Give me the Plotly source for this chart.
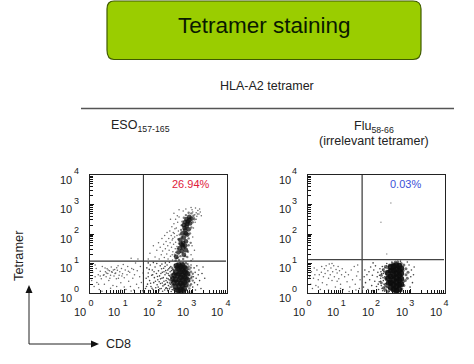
import plotly.graph_objects as go

title_text = "Tetramer staining"
subtitle_text = "HLA-A2 tetramer"
left_percent = "26.94%"
right_percent = "0.03%"
decades = [0, 1, 2, 3, 4]
decade_labels = ["0", "1", "2", "3", "4"]

# Events, as (log10 CD8, log10 tetramer)
left_sparse = [(0.05,0.42),(0.08,0.7),(0.12,0.22),(0.15,0.55),(0.18,0.83),(0.2,0.36),(0.24,0.62),(0.27,0.12),(0.3,0.74),(0.33,0.48),
 (0.36,0.9),(0.39,0.6),(0.42,0.3),(0.45,0.72),(0.47,0.55),(0.5,0.82),(0.52,0.66),(0.55,0.42),(0.57,0.75),(0.6,0.6),
 (0.62,0.88),(0.65,0.7),(0.67,0.25),(0.7,0.58),(0.72,0.8),(0.75,0.68),(0.77,0.48),(0.8,0.77),(0.82,0.92),(0.85,0.6),
 (0.87,0.72),(0.9,0.35),(0.92,0.83),(0.95,0.65),(0.97,0.97),(1.0,0.52),(1.03,0.78),(1.05,0.12),(1.08,0.62),(1.1,0.9),
 (1.13,0.4),(1.16,0.7),(1.18,0.22),(1.22,0.83),(1.25,0.5),(1.28,0.1),(1.3,0.62),(1.33,1.02),(1.36,0.3),(1.38,0.75),
 (1.42,0.18),(1.45,0.55),(1.47,0.9),(1.5,0.36),(1.53,0.08),(1.55,0.68),(0.6,0.16),(0.9,0.1),(1.2,0.07),(0.35,0.06),
 (0.78,0.22),(1.0,0.2),(1.4,1.15),(1.2,1.18),(0.15,0.95),(0.25,0.3),(0.58,0.5),(0.68,0.78),(0.44,0.85),(0.83,0.5),
 (0.48,0.68),(0.53,0.78),(0.63,0.72),(0.73,0.66),(0.41,0.62),(0.78,0.86),(0.93,0.58),(0.3,0.58),(1.12,0.74),(1.27,0.8)]
left_mid = [(1.62,0.15),(1.64,0.5),(1.66,0.85),(1.68,0.3),(1.7,0.68),(1.72,0.08),(1.74,0.42),(1.76,0.95),(1.78,0.22),(1.8,0.6),
 (1.82,0.78),(1.84,0.12),(1.86,0.35),(1.88,0.52),(1.9,0.88),(1.92,0.18),(1.94,0.66),(1.96,0.28),(1.98,0.45),(2.0,0.75),
 (2.01,0.08),(2.03,0.58),(2.05,0.92),(2.06,0.32),(2.08,0.15),(2.1,0.5),(2.11,0.7),(2.13,0.24),(2.15,0.84),(2.16,0.4),
 (2.18,0.1),(2.19,0.62),(2.2,0.3),(2.21,0.76),(2.23,0.18),(2.24,0.5),(2.25,0.95),(2.26,0.36),(2.27,0.08),(2.28,0.66),
 (2.29,0.25),(2.3,0.82),(2.31,0.45),(2.32,0.14),(2.33,0.58),(2.34,0.72),(2.35,0.3),(2.36,0.9),(2.37,0.05),(2.38,0.5),
 (2.39,0.2),(2.4,0.64),(2.41,0.38),(2.42,0.8),(2.43,0.1),(2.44,0.55),(2.45,0.28),(2.46,0.7),(2.47,0.96),(2.48,0.16),
 (3.0,0.2),(3.02,0.55),(3.04,0.85),(3.05,0.35),(3.07,0.7),(3.08,0.1),(3.1,0.5),(3.12,0.92),(3.14,0.28),(3.16,0.62),
 (3.18,0.78),(3.2,0.42),(3.24,0.15),(3.27,0.66),(3.3,0.88),(3.35,0.5),(2.95,0.95),(2.98,0.05),(1.7,1.02),(1.85,1.03),
 (2.2,1.02),(2.32,1.04),(2.1,0.98),(1.95,1.0),
 (1.65,0.22),(1.7,0.55),(1.73,0.8),(1.77,0.33),(1.81,0.16),(1.83,0.62),(1.87,0.72),(1.91,0.4),(1.93,0.06),(1.97,0.56),
 (1.99,0.2),(2.02,0.38),(2.04,0.14),(2.07,0.66),(2.09,0.82),(2.12,0.06),(2.14,0.52),(2.17,0.28),(2.19,0.9),(2.22,0.42),
 (2.23,0.68),(2.26,0.14),(2.28,0.48),(2.3,0.6),(2.32,0.34),(2.34,0.2),(2.36,0.54),(2.38,0.76),(2.4,0.12),(2.42,0.44),
 (2.44,0.3),(2.46,0.62),(2.48,0.4),(2.37,0.36),(2.33,0.86),(2.27,0.78),(2.21,0.16),(2.16,0.72),(2.11,0.34),(2.06,0.48)]
left_arm_scatter = [(1.7,1.15),(1.75,1.35),(1.85,1.6),(1.9,1.22),(1.95,1.45),(2.0,1.7),(2.02,1.15),(2.05,1.55),(2.08,1.3),(2.1,1.85),
 (2.12,1.42),(2.15,1.65),(2.17,1.2),(2.18,1.95),(2.2,1.5),(2.22,1.75),(2.24,1.32),(2.25,2.05),(2.27,1.6),(2.28,1.15),
 (2.3,1.85),(2.31,1.45),(2.33,2.1),(2.34,1.7),(2.35,1.25),(2.37,1.95),(2.38,1.55),(2.39,2.25),(2.4,1.8),(2.41,1.12),
 (2.42,1.4),(2.43,2.05),(2.44,1.65),(2.45,2.35),(2.46,1.25),(2.47,1.9),(2.48,2.18),(2.49,1.5),(2.5,2.5),(2.52,1.18),
 (2.95,1.3),(2.98,1.6),(3.0,1.9),(3.02,2.2),(3.04,2.55),(3.05,1.45),(3.07,2.4),(3.1,2.72),(3.12,2.6),(3.15,2.8),
 (3.18,2.68),(3.2,2.85),(3.22,2.75),(3.25,2.62),(2.6,2.82),(2.8,2.85),(2.95,2.9),(3.08,2.88),(2.35,2.5),(2.45,2.7),
 (2.42,1.85),(2.46,2.02),(2.5,1.72),(2.52,2.2),(2.54,1.95),(2.56,2.4),(2.58,2.1),(2.5,1.38),(2.54,1.58),(2.4,1.3),
 (3.0,2.75),(3.06,2.65),(3.1,2.5),(3.14,2.68),(2.98,2.82),(2.72,2.78),(2.6,2.58),(2.55,2.62),(2.95,1.1),(3.0,1.15)]
left_core = [(2.5,0.2),(2.5,0.45),(2.5,0.7),(2.55,0.1),(2.55,0.35),(2.55,0.6),(2.55,0.85),(2.6,0.08),(2.6,0.25),(2.6,0.45),
 (2.6,0.65),(2.6,0.82),(2.6,0.95),(2.65,0.12),(2.65,0.32),(2.65,0.52),(2.65,0.72),(2.65,0.9),(2.7,0.08),(2.7,0.25),
 (2.7,0.42),(2.7,0.6),(2.7,0.78),(2.7,0.95),(2.75,0.15),(2.75,0.35),(2.75,0.55),(2.75,0.72),(2.75,0.88),(2.8,0.3),
 (2.8,0.5),(2.8,0.68),(2.8,0.82),(2.45,0.35),(2.46,0.6),(2.85,0.45),(2.85,0.65),(2.52,0.92),(2.42,0.48)]
left_halo = [(2.9,0.15),(2.9,0.4),(2.9,0.6),(2.9,0.8),(2.95,0.3),(2.95,0.5),(2.95,0.72),(3.0,0.42),(3.0,0.65),(2.35,0.42),
 (2.38,0.62),(2.4,0.25),(2.4,0.85),(2.72,1.02),(2.85,0.98),(2.55,1.0),(2.6,0.03),(2.75,0.04),(2.9,0.03),(2.85,0.22),
 (2.88,0.9),(2.92,0.25),(2.94,0.86),(2.97,0.55),(2.82,0.1),(2.46,0.14),(2.44,0.78),(2.5,0.05),(2.64,1.03),(2.8,1.02)]
left_arm = [(2.52,1.22),(2.58,1.38),(2.62,1.52),(2.66,1.66),(2.68,1.42),(2.72,1.7),(2.72,1.55),(2.74,1.3),(2.78,1.6),(2.8,1.45),
 (2.64,1.8),(2.74,1.88),(2.7,2.02),(2.78,2.12),(2.84,1.98),(2.74,2.3),(2.82,2.26),(2.86,2.42),(2.92,2.36),(2.82,2.5),
 (2.9,2.58),(2.96,2.52),(2.78,2.4),(2.88,2.16),(2.8,1.75),(2.76,2.2),(2.8,2.02),(2.84,2.34),(2.9,2.48),(2.7,1.62)]
left_arm_halo = [(2.5,1.1),(2.56,1.2),(2.64,1.25),(2.48,1.3),(2.56,1.5),(2.6,1.68),(2.58,1.82),(2.62,1.98),(2.66,2.14),(2.68,2.3),
 (2.7,2.42),(2.74,2.55),(2.8,2.64),(2.88,2.72),(2.96,2.7),(3.02,2.62),(3.0,2.4),(2.96,2.22),(2.92,2.02),(2.88,1.85),
 (2.88,1.62),(2.86,1.4),(2.84,1.22),(2.72,1.15),(2.94,1.7),(2.76,2.0),(2.68,1.9),(3.05,2.5),(2.78,1.25),(2.6,1.12)]

right_sparse = [(0.05,0.55),(0.08,0.3),(0.1,0.72),(0.13,0.15),(0.16,0.5),(0.2,0.62),(0.23,0.25),(0.26,0.78),(0.3,0.45),(0.33,0.62),
 (0.36,0.12),(0.39,0.7),(0.42,0.35),(0.45,0.55),(0.48,0.82),(0.5,0.66),(0.53,0.92),(0.55,0.28),(0.58,0.75),(0.6,0.5),
 (0.62,0.98),(0.65,0.62),(0.67,0.85),(0.7,0.42),(0.72,0.72),(0.75,0.92),(0.77,0.55),(0.8,0.2),(0.82,0.8),(0.85,0.68),
 (0.88,0.9),(0.9,0.48),(0.92,0.75),(0.95,0.3),(0.98,0.62),(1.0,0.82),(1.03,0.12),(1.07,0.55),(1.1,0.7),(1.14,0.38),
 (1.18,0.62),(1.22,0.2),(1.26,0.78),(1.3,0.45),(1.35,0.9),(1.38,0.3),(1.42,0.58),(1.46,0.72),(1.5,0.15),(1.52,0.45),
 (0.3,0.2),(0.6,0.1),(0.95,0.15),(1.2,0.05),(1.4,0.1),(0.18,0.85),(0.4,0.9),(0.7,1.0),(1.45,0.95),(0.85,0.4)]
right_mid = [(1.62,0.2),(1.64,0.55),(1.66,0.78),(1.68,0.35),(1.72,0.62),(1.75,0.12),(1.78,0.72),(1.8,0.45),(1.83,0.88),(1.86,0.25),
 (1.88,0.6),(1.9,0.08),(1.92,0.78),(1.95,0.4),(1.97,0.92),(2.0,0.22),(2.02,0.55),(2.04,0.7),(2.06,0.12),(2.08,0.38),
 (2.1,0.82),(2.12,0.5),(2.14,0.25),(2.15,0.65),(2.17,0.9),(2.18,0.08),(2.2,0.42),(2.21,0.72),(2.23,0.2),(2.24,0.55),
 (2.25,0.85),(2.27,0.32),(2.28,0.62),(2.29,0.1),(2.3,0.48),(2.31,0.76),(2.33,0.2),(2.34,0.9),(2.35,0.38),(2.36,0.62),
 (2.37,0.06),(2.38,0.5),(2.39,0.28),(2.4,0.8),(2.98,0.2),(3.0,0.55),(3.02,0.78),(3.05,0.35),(3.08,0.62),(3.1,0.88),
 (2.95,0.95),(2.9,1.05),(2.7,1.08),(2.45,1.05),(1.9,1.02),(2.3,1.0),
 (2.05,0.3),(2.09,0.6),(2.13,0.72),(2.16,0.15),(2.19,0.52),(2.22,0.3),(2.26,0.65),(2.28,0.22),(2.32,0.55),(2.34,0.7),
 (2.36,0.15),(2.38,0.82),(2.41,0.4),(2.43,0.62),(2.18,0.78),(2.24,0.06),(2.3,0.92),(2.2,0.66),(2.12,0.4),(2.27,0.44)]
right_rare = [(2.42,3.05),(2.13,2.4),(2.3,1.32)]
right_core = [(2.42,0.35),(2.42,0.55),(2.42,0.75),(2.5,0.12),(2.5,0.28),
 (2.5,0.44),(2.5,0.6),(2.5,0.76),(2.5,0.9),(2.58,0.08),(2.58,0.22),(2.58,0.38),(2.58,0.52),(2.58,0.66),(2.58,0.8),(2.58,0.94),
 (2.66,0.12),(2.66,0.28),(2.66,0.44),(2.66,0.6),(2.66,0.76),(2.66,0.92),(2.72,0.3),(2.72,0.48),(2.72,0.66),(2.72,0.84),
 (2.34,0.5),(2.34,0.68),(2.36,0.34),(2.42,0.18),(2.42,0.88)]
right_halo = [(2.14,0.35),(2.14,0.6),(2.2,0.18),(2.2,0.8),(2.24,0.12),(2.26,0.9),(2.34,0.05),(2.46,1.0),(2.55,1.05),(2.62,1.06),
 (2.72,1.0),(2.8,0.95),(2.8,0.25),(2.84,0.42),(2.86,0.62),(2.86,0.82),(2.6,0.03),(2.72,0.08),(2.26,0.28),(2.26,0.72),
 (2.3,0.2),(2.32,0.86),(2.26,0.5),(2.38,0.95),(2.5,0.98),(2.74,0.14),(2.78,0.38),(2.78,0.76),(2.92,0.7),(2.9,0.5)]

PLOT_W, PLOT_H = 474, 364
fig = go.Figure()


def unzip(pairs):
    return [p[0] for p in pairs], [p[1] for p in pairs]


def add_points(pairs, ax, size, color, opacity=1.0):
    xs, ys = unzip(pairs)
    fig.add_trace(go.Scatter(x=xs, y=ys, xaxis="x" + ax, yaxis="y" + ax, mode="markers",
                             marker=dict(size=size, color=color, opacity=opacity, line=dict(width=0)),
                             showlegend=False, hoverinfo="skip"))


for pts, s, c, o in [(left_sparse, 1.5, "#333", 0.75), (left_mid, 1.6, "#222", 0.85),
                     (left_arm_scatter, 1.5, "#333", 0.75), (left_halo, 2.4, "#222", 0.6),
                     (left_arm_halo, 2.4, "#222", 0.6),
                     (left_core, 5.6, "#111", 0.8), (left_arm, 4.8, "#111", 0.75)]:
    add_points(pts, "", s, c, o)
for pts, s, c, o in [(right_sparse, 1.5, "#333", 0.75), (right_mid, 1.6, "#222", 0.85),
                     (right_rare, 1.5, "#777", 0.8), (right_halo, 3, "#222", 0.65),
                     (right_core, 6, "#0c0c0c", 0.9)]:
    add_points(pts, "2", s, c, o)

minor_vals = [0.301, 0.477, 0.602, 0.699, 0.778, 0.845, 0.903, 0.954]
minors = [d + m for d in decades[:-1] for m in minor_vals]


def px_x(a, b):
    return [a / PLOT_W, b / PLOT_W]


def px_y(top, bottom):
    return [1 - bottom / PLOT_H, 1 - top / PLOT_H]


def axis_common():
    return dict(range=[0, 4], tickvals=decades, ticktext=decade_labels, ticks="inside", ticklen=4, tickwidth=1.2,
                tickcolor="#111", showgrid=False, zeroline=False, showline=True, linecolor="#222", linewidth=1.3,
                mirror=True, automargin=False, tickfont=dict(family="Liberation Sans", size=9, color="#222"),
                minor=dict(tickvals=minors, ticks="inside", ticklen=2.5, tickwidth=1.2, tickcolor="#111"))


xstyle = dict(ticklabelstandoff=1, ticklabelshift=1)
ystyle = dict(ticklabelstandoff=8, ticklabelshift=-4)
fig.update_layout(
    width=PLOT_W, height=PLOT_H, margin=dict(l=0, r=0, t=0, b=0), paper_bgcolor="white", plot_bgcolor="white",
    autosize=False, showlegend=False,
    xaxis=dict(domain=px_x(90, 227), anchor="y", **axis_common(), **xstyle),
    yaxis=dict(domain=px_y(175, 293), anchor="x", **axis_common(), **ystyle),
    xaxis2=dict(domain=px_x(308, 445), anchor="y2", **axis_common(), **xstyle),
    yaxis2=dict(domain=px_y(175, 293), anchor="x2", **axis_common(), **ystyle),
)

FONT = "Liberation Sans"


def note(text, x, y, size, color="#222", xanchor="center", angle=0):
    fig.add_annotation(text=text, x=x / PLOT_W, y=1 - y / PLOT_H, xref="paper", yref="paper", showarrow=False,
                       xanchor=xanchor, yanchor="middle", textangle=angle,
                       font=dict(family=FONT, size=size, color=color))


# "10" bases of the decade labels
for left in [80, 299]:
    for d in decades:
        note("10", left + d * 34.25, 312, 11)
for left in [65.5, 285]:
    for d in decades:
        note("10", left, 297.5 - d * 29.5, 11)

note(title_text, 264, 26, 22.5, "#0a1a00")
note(subtitle_text, 267, 86, 12.5)
note("ESO<sub>157-165</sub>", 109, 126, 12.5, xanchor="left")
note("Flu<sub>58-66</sub>", 374, 127, 12.5)
note("(irrelevant tetramer)", 374, 141, 12.5)
note(left_percent, 191, 184, 11, "#e0203a")
note(right_percent, 405, 184, 11, "#3a50d8")
note("Tetramer", 18, 256, 12.8, angle=-90)
note("CD8", 118, 344, 12.5)

shapes = [
    dict(type="path", xref="paper", yref="paper",
         path="M {} {} L {} {} Q {} {} {} {} L {} {} Q {} {} {} {} L {} {} Q {} {} {} {} L {} {} Q {} {} {} {} Z".format(
             *[v for pair in [(114, 1), (413, 1), (421, 1), (421, 9), (421, 50), (421, 59.5), (413, 59.5), (114, 59.5),
                              (107, 59.5), (107, 50), (107, 9), (107, 1), (114, 1)] for v in (pair[0] / PLOT_W, 1 - pair[1] / PLOT_H)]),
         fillcolor="#9acd00", line=dict(color="#3f5a00", width=1.2)),
    dict(type="line", xref="paper", yref="paper", x0=81 / PLOT_W, x1=454 / PLOT_W, y0=1 - 108.5 / PLOT_H,
         y1=1 - 108.5 / PLOT_H, line=dict(color="#555", width=1.3)),
    dict(type="line", xref="x", yref="y", x0=1.56, x1=1.56, y0=0, y1=4, line=dict(color="#333", width=1.1)),
    dict(type="line", xref="x", yref="y", x0=0, x1=3.97, y0=1.08, y1=1.08, line=dict(color="#333", width=1.1)),
    dict(type="line", xref="x2", yref="y2", x0=1.58, x1=1.58, y0=0, y1=4, line=dict(color="#444", width=1.3)),
    dict(type="line", xref="x2", yref="y2", x0=0, x1=3.97, y0=1.13, y1=1.13, line=dict(color="#444", width=1.3)),
    dict(type="line", xref="paper", yref="paper", x0=29 / PLOT_W, x1=29 / PLOT_W, y0=1 - 344 / PLOT_H,
         y1=1 - 290 / PLOT_H, line=dict(color="#222", width=1)),
    dict(type="line", xref="paper", yref="paper", x0=29 / PLOT_W, x1=94 / PLOT_W, y0=1 - 344 / PLOT_H,
         y1=1 - 344 / PLOT_H, line=dict(color="#222", width=1)),
    dict(type="path", xref="paper", yref="paper", fillcolor="#111", line=dict(width=0),
         path="M {} {} L {} {} L {} {} Z".format(29 / PLOT_W, 1 - 285 / PLOT_H, 25.5 / PLOT_W, 1 - 293 / PLOT_H, 32.5 / PLOT_W, 1 - 293 / PLOT_H)),
    dict(type="path", xref="paper", yref="paper", fillcolor="#111", line=dict(width=0),
         path="M {} {} L {} {} L {} {} Z".format(99 / PLOT_W, 1 - 344 / PLOT_H, 91 / PLOT_W, 1 - 340.5 / PLOT_H, 91 / PLOT_W, 1 - 347.5 / PLOT_H)),
]
fig.update_layout(shapes=shapes)
fig.write_html("out.html", config={"displayModeBar": False},
               post_script="document.body.style.margin='0';document.body.style.overflow='hidden';")
